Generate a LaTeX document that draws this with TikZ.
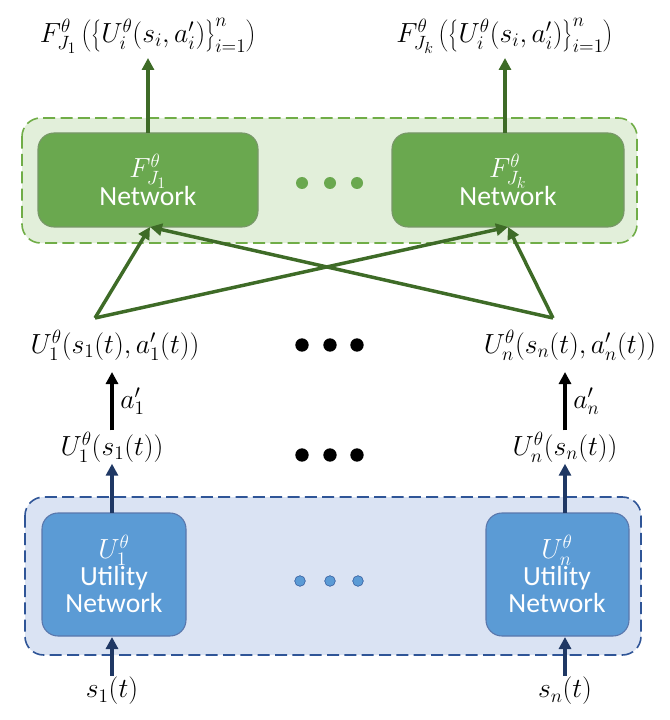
\documentclass[tikz,border=0pt]{standalone}
\usepackage{fontspec}
\newfontfamily\carlitofont{Carlito}
\usetikzlibrary{arrows.meta}
\definecolor{gfill}{HTML}{E2EFDA}
\definecolor{gbox}{HTML}{6AA84F}
\definecolor{gdark}{HTML}{3E6B27}
\definecolor{gline}{HTML}{70AD47}
\definecolor{bfill}{HTML}{DAE3F3}
\definecolor{bbox}{HTML}{5B9BD5}
\definecolor{bdark}{HTML}{1F3864}
\definecolor{bline}{HTML}{2F5597}
\begin{document}
\begin{tikzpicture}[x=0.75pt,y=-0.75pt,
 outer/.style={rounded corners=14pt,dashed,dash pattern=on 9pt off 4pt,line width=1.2pt},
 lbl/.style={font=\huge,inner sep=1pt},
 boxt/.style={font=\carlitofont\huge,text=white,align=center},
 garr/.style={draw=gdark,line width=2.6pt,-{Triangle[length=9pt,width=9pt]}},
 barr/.style={draw=bdark,line width=2.6pt,-{Triangle[length=9pt,width=9pt]}},
 karr/.style={draw=black,line width=2.6pt,-{Triangle[length=9pt,width=9pt]}},
 dot/.style={circle,inner sep=0pt,minimum size=#1}]
\useasboundingbox (0,0) rectangle (669,720);
% green
\draw[outer,draw=gline,fill=gfill] (22,118) rectangle (637,243);
\draw[fill=gbox,draw=gdark!70,line width=0.8pt,rounded corners=12pt] (38,133) rectangle (258,227);
\draw[fill=gbox,draw=gdark!70,line width=0.8pt,rounded corners=12pt] (392,133) rectangle (624,227);
\node[boxt] (g1) at (148,180) {$F^{\theta}_{J_1}$\\[-4pt]Network};
\node[boxt] (gk) at (508,180) {$F^{\theta}_{J_k}$\\[-4pt]Network};
\coordinate (g1t) at (148,133); \coordinate (gkt) at (505,133);
\coordinate (g1b) at (150,227); \coordinate (gkb) at (508,227);
\foreach \x in {302,330,357} \node[dot=9pt,fill=gbox] at (\x,183) {};
\node[lbl] (f1) at (148,36) {$F^{\theta}_{J_1}\left(\left\{U^{\theta}_i(s_i,a_i')\right\}_{i=1}^{n}\right)$};
\node[lbl] (fk) at (505,36) {$F^{\theta}_{J_k}\left(\left\{U^{\theta}_i(s_i,a_i')\right\}_{i=1}^{n}\right)$};
\draw[garr] (g1t) -- (148,58);
\draw[garr] (gkt) -- (505,58);
% middle
\node[lbl] (u1a) at (115,345) {$U^{\theta}_1(s_1(t),a_1'(t))$};
\node[lbl] (una) at (570,345) {$U^{\theta}_n(s_n(t),a_n'(t))$};
\coordinate (c1) at (95,318); \coordinate (cn) at (553,318);
\draw[garr] (c1) -- (g1b);
\draw[garr] (c1) -- (gkb);
\draw[garr] (cn) -- (g1b);
\draw[garr] (cn) -- (gkb);
\foreach \x in {302,330,357} {\node[dot=10pt,fill=black] at (\x,345) {}; \node[dot=10pt,fill=black] at (\x,455) {};}
\node[lbl] (u1) at (112,447) {$U^{\theta}_1(s_1(t))$};
\node[lbl] (un) at (565,447) {$U^{\theta}_n(s_n(t))$};
\draw[karr] (u1.north) -- (112,372) node[midway,right=4pt,lbl] {$a_1'$};
\draw[karr] (un.north) -- (565,372) node[midway,right=4pt,lbl] {$a_n'$};
% blue
\draw[outer,draw=bline,fill=bfill] (25,497) rectangle (641,655);
\draw[fill=bbox,draw=bline!80,line width=0.8pt,rounded corners=12pt] (42,513) rectangle (186,636);
\draw[fill=bbox,draw=bline!80,line width=0.8pt,rounded corners=12pt] (486,513) rectangle (629,636);
\node[boxt] (b1) at (114,574) {$U^{\theta}_1$\\[-5pt]Utility\\[-5pt]Network};
\node[boxt] (bn) at (557,574) {$U^{\theta}_n$\\[-5pt]Utility\\[-5pt]Network};
\foreach \x in {300,330,358} \node[dot=8pt,fill=bbox,draw=bline] at (\x,581) {};
\coordinate (b1t) at (112,513); \coordinate (bnt) at (565,513);
\draw[barr] (b1t) -- (u1.south);
\draw[barr] (bnt) -- (un.south);
\node[lbl] (s1) at (112,691) {$s_1(t)$};
\node[lbl] (sn) at (565,691) {$s_n(t)$};
\draw[barr] (s1.north) -- (112,637);
\draw[barr] (sn.north) -- (565,637);
\end{tikzpicture}
\end{document}
